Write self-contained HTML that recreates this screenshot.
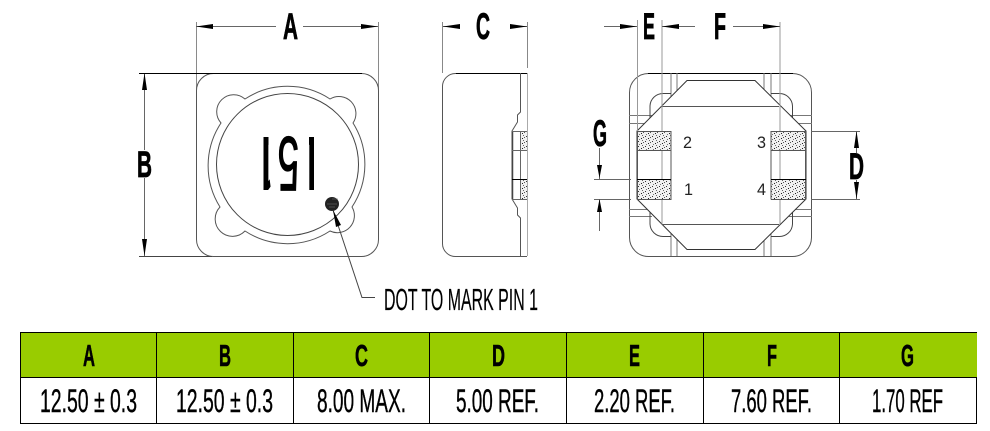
<!DOCTYPE html>
<html>
<head>
<meta charset="utf-8">
<style>
html,body{margin:0;padding:0;background:#fff}
svg{display:block}
text{font-family:"Liberation Sans",sans-serif;fill:#000}
.l{font-weight:bold;font-size:37px;stroke:#000;stroke-width:.8px}
.v{font-size:32px;stroke:#000;stroke-width:.4px}
.h{font-weight:bold;font-size:31px;stroke:#000;stroke-width:.6px}
.n{font-size:17px;fill:#222}
.m{font-weight:bold;font-size:77px}
.f{font-size:77px;stroke:#000;stroke-width:1.2px}
</style>
</head>
<body>
<svg width="990" height="431" viewBox="0 0 990 431" xmlns="http://www.w3.org/2000/svg">
<defs>
<pattern id="sp" width="7" height="5" patternUnits="userSpaceOnUse">
<rect width="7" height="5" fill="#f0f0f0"/>
<rect x="1" y="1" width="1" height="1" fill="#333"/>
<rect x="5" y="0" width="1" height="1" fill="#666"/>
<rect x="4" y="3" width="1" height="1" fill="#222"/>
<rect x="2" y="4" width="1" height="1" fill="#777"/>
<rect x="6" y="2" width="1" height="1" fill="#555"/>
</pattern>
<clipPath id="c1"><path d="M263.500 137H268.500V170L271 190H263.500Z"/></clipPath>
<clipPath id="c2"><path d="M309 137H314V190H306.500L309 170Z"/></clipPath>
</defs>

<!-- LEFT VIEW -->
<g fill="none" stroke="#8a8a8a" stroke-width="1">
<path d="M196.500 22V90M378.500 22V90"/>
</g>
<g fill="none" stroke="#666" stroke-width="1">
<path d="M196 26.500H276M303 26.500H378M144.500 73V150M144.500 178V256"/>
</g>
<path d="M196 26.500L213 24V29ZM378 26.500L361 24V29ZM144.500 73L142 90H147ZM144.500 256L142 239H147Z" fill="#000"/>
<rect x="196.500" y="73.500" width="182" height="183" rx="17" fill="none" stroke="#555"/>
<path d="M139 73.500H362" stroke="#000" fill="none"/>
<path d="M139 256.500H212" stroke="#444" fill="none"/>
<path d="M245 99A77.500 77.500 0 0 1 330 99A17 17 0 0 1 353 123A77.500 77.500 0 0 1 352 207A17 17 0 0 1 330 231A77.500 77.500 0 0 1 245 231A17 17 0 0 1 220 207A77.500 77.500 0 0 1 221 123A17 17 0 0 1 245 99Z" fill="#fff" stroke="#555"/>
<circle cx="287.500" cy="164.500" r="71" fill="#fff" stroke="#444"/>
<g clip-path="url(#c1)"><text class="m" transform="translate(277 137) rotate(180) scale(.48 1)">1</text></g>
<text class="f" transform="translate(299 137) rotate(180) scale(.5 1)">5</text>
<g clip-path="url(#c2)"><text class="m" transform="translate(323 137) rotate(180) scale(.48 1)">1</text></g>
<circle cx="332" cy="204" r="7" fill="#222"/>
<path d="M332 199H338M327 204H337M329 207H335" stroke="#777" stroke-width=".6"/>
<path d="M333 210L362 297.500H375" fill="none" stroke="#444"/>
<path d="M333 210L336 227L341 225Z" fill="#000"/>
<text x="384" y="310" font-size="31" textLength="154" lengthAdjust="spacingAndGlyphs" style="stroke:#000;stroke-width:.2px">DOT TO MARK PIN 1</text>
<text class="l" x="283" y="39" textLength="15" lengthAdjust="spacingAndGlyphs">A</text>
<text class="l" x="137" y="177" textLength="15" lengthAdjust="spacingAndGlyphs">B</text>

<!-- SIDE VIEW -->
<path d="M442.500 22V73M527.500 22V68" stroke="#888" fill="none"/>
<path d="M443 26.500H460M511 26.500H527" stroke="#555" fill="none"/>
<path d="M443 26.500L460 24V29ZM527 26.500L510 24V29Z" fill="#000"/>
<text class="l" x="476" y="39" textLength="14" lengthAdjust="spacingAndGlyphs">C</text>
<path d="M527 73.500H456A13 13 0 0 0 442.500 87V243A13 13 0 0 0 456 256.500H527" fill="none" stroke="#555"/>
<path d="M456 73.500H527" stroke="#000" fill="none"/>
<path d="M527.500 73V256" stroke="#aaa" fill="none"/>
<path d="M520.500 73V112L517.500 115V122L512 131V199L517.500 208V215L520.500 218V256" fill="none" stroke="#555"/>
<path d="M512.500 131V199" stroke="#444" stroke-width="1.500"/>
<rect x="521" y="131" width="6" height="19" fill="url(#sp)"/>
<rect x="521" y="179" width="6" height="20" fill="url(#sp)"/>
<path d="M512 131.500H527M512 150.500H527M512 199.500H527M520.500 131V199" stroke="#666" fill="none"/>
<path d="M512 179.500H527" stroke="#000" fill="none"/>

<!-- RIGHT VIEW -->
<rect x="629.500" y="73.500" width="182" height="183" rx="19" fill="#fff" stroke="#555"/>
<path d="M648 73.500H793" stroke="#000" fill="none"/>
<g fill="none" stroke="#777">
<path d="M671 73V100M677 73V96M764 73V96M771 73V100M671 256V232M677 256V234M764 256V234M771 256V232"/>
<path d="M629 115.500H652M629 123.500H648M812 115.500H789M812 123.500H793M629 209.500H648M629 216.500H652M812 209.500H793M812 216.500H789"/>
</g>
<g fill="none" stroke="#444">
<path d="M671 93.500H663A13 13 0 0 0 650 106V118"/>
<path d="M771 93.500H779A13 13 0 0 1 792.500 106V118"/>
<path d="M671 236.500H663A13 13 0 0 1 650 224V212"/>
<path d="M771 236.500H779A13 13 0 0 0 792.500 224V212"/>
</g>
<path d="M687 80.500H755L806 131V199L755 249.500H687L637 199V131Z" fill="#fff" stroke="#333"/>
<path d="M662 106.500H779M662 224.500H779" stroke="#555" fill="none"/>
<g fill="none" stroke="#999">
<path d="M637.500 20V131M662 20V224M780 22V224"/>
</g>
<rect x="638" y="131" width="33" height="19" fill="url(#sp)"/>
<rect x="638" y="179" width="33" height="20" fill="url(#sp)"/>
<rect x="771" y="131" width="35" height="19" fill="url(#sp)"/>
<rect x="771" y="179" width="35" height="20" fill="url(#sp)"/>
<g fill="none" stroke="#555">
<path d="M637 131.500H671V199.500H637M637 150.500H671M771 199.500V131.500H806M771 150.500H806M771 199.500H806M637.500 131V199M805.500 131V199"/>
</g>
<path d="M637 179.500H671M771 179.500H806" stroke="#000" fill="none"/>
<text class="n" x="683" y="148" textLength="9" lengthAdjust="spacingAndGlyphs">2</text>
<text class="n" x="757" y="148" textLength="9" lengthAdjust="spacingAndGlyphs">3</text>
<text class="n" x="684" y="195" textLength="9" lengthAdjust="spacingAndGlyphs">1</text>
<text class="n" x="757" y="195" textLength="9" lengthAdjust="spacingAndGlyphs">4</text>
<g fill="none" stroke="#666">
<path d="M604 26.500H637M662 26.500H695M733 26.500H780"/>
<path d="M599.500 148V179M599.500 199V231M594 179.500H631M594 199.500H631"/>
<path d="M811 131.500H860M811 199.500H860M856.500 131V153M856.500 180V199"/>
</g>
<path d="M637 26.500L620 24V29ZM662 26.500L679 24V29ZM780 26.500L763 24V29ZM599.500 178L597 165H602ZM599.500 199L597 212H602ZM856.500 131L854 148H859ZM856.500 199L854 182H859Z" fill="#000"/>
<text class="l" x="643" y="39" textLength="12" lengthAdjust="spacingAndGlyphs">E</text>
<text class="l" x="714" y="39" textLength="12" lengthAdjust="spacingAndGlyphs">F</text>
<text class="l" x="593" y="146" textLength="14" lengthAdjust="spacingAndGlyphs">G</text>
<text class="l" x="849" y="179" textLength="15" lengthAdjust="spacingAndGlyphs">D</text>

<!-- TABLE -->
<rect x="20" y="332" width="957" height="45" fill="#99cc00"/>
<path d="M20 332.500H977M20 377.500H976M20 423.500H976" stroke="#000" fill="none"/>
<path d="M20.500 332V424M156.500 332V424M293.500 332V424M429.500 332V424M566.500 332V424M703.500 332V424M839.500 332V424M976.500 377V424" stroke="#000" fill="none"/>
<text class="h" x="83" y="366" textLength="12" lengthAdjust="spacingAndGlyphs">A</text>
<text class="h" x="219" y="366" textLength="12" lengthAdjust="spacingAndGlyphs">B</text>
<text class="h" x="355" y="366" textLength="13" lengthAdjust="spacingAndGlyphs">C</text>
<text class="h" x="492" y="366" textLength="13" lengthAdjust="spacingAndGlyphs">D</text>
<text class="h" x="629" y="366" textLength="11" lengthAdjust="spacingAndGlyphs">E</text>
<text class="h" x="767" y="366" textLength="10" lengthAdjust="spacingAndGlyphs">F</text>
<text class="h" x="901" y="366" textLength="13" lengthAdjust="spacingAndGlyphs">G</text>
<text class="v" x="40" y="412" textLength="97" lengthAdjust="spacingAndGlyphs">12.50 ± 0.3</text>
<text class="v" x="176" y="412" textLength="97" lengthAdjust="spacingAndGlyphs">12.50 ± 0.3</text>
<text class="v" x="317" y="412" textLength="89" lengthAdjust="spacingAndGlyphs">8.00 MAX.</text>
<text class="v" x="456" y="412" textLength="83" lengthAdjust="spacingAndGlyphs">5.00 REF.</text>
<text class="v" x="594" y="412" textLength="81" lengthAdjust="spacingAndGlyphs">2.20 REF.</text>
<text class="v" x="731" y="412" textLength="81" lengthAdjust="spacingAndGlyphs">7.60 REF.</text>
<text class="v" x="872" y="412" textLength="71" lengthAdjust="spacingAndGlyphs">1.70 REF</text>
</svg>
</body>
</html>
